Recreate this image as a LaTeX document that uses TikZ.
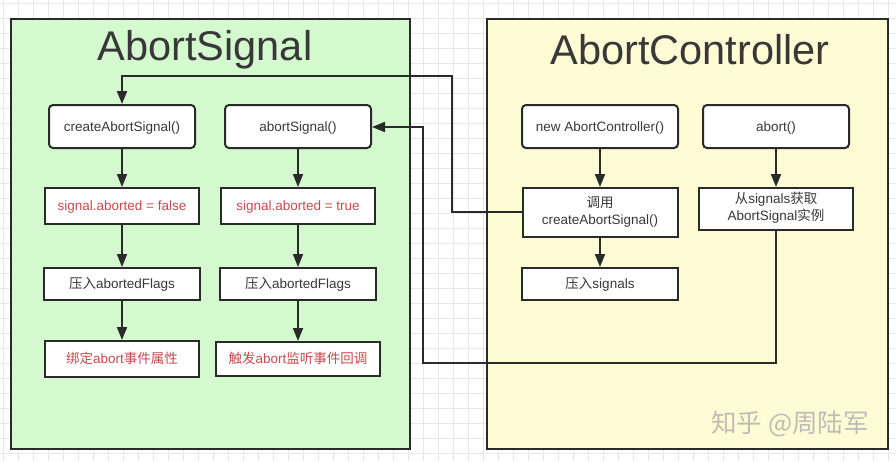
\documentclass[tikz,border=0pt]{standalone}
\usepackage{fontspec}
\setmainfont{Liberation Sans}
\newfontfamily\cjk{Noto Sans CJK SC}
\usetikzlibrary{arrows.meta}
\definecolor{gridc}{HTML}{E8E8E8}
\definecolor{greenbg}{HTML}{D5F9CF}
\definecolor{yellowbg}{HTML}{FEFCD5}
\definecolor{linec}{HTML}{2A2A2A}
\definecolor{txtc}{HTML}{383838}
\definecolor{redc}{HTML}{C84A4E}
\definecolor{wmc}{HTML}{BDBDB5}
\tikzset{
  gridline/.style={gridc, line width=0.8pt},
  container/.style={draw=linec, line width=2.6pt},
  box/.style={draw=linec, fill=white, line width=2pt, inner sep=0pt, align=center,
    font=\fontsize{13.5}{17}\selectfont, text=txtc},
  one/.style={text height=11pt, text depth=2pt},
  rbox/.style={box, rounded corners=4pt},
  redtext/.style={text=redc},
  conn/.style={draw=linec, line width=2pt, -{Triangle[length=13pt,width=10pt]}},
  title/.style={font=\fontsize{41.5}{48}\selectfont, text=txtc, inner sep=0pt},
}
\begin{document}
\begin{tikzpicture}[x=1pt,y=-1pt]
\useasboundingbox (0,0) rectangle (896,461);
\fill[white] (0,0) rectangle (896,461);
\foreach \i in {0,...,59} \draw[gridline] ({3+15*\i},0) -- ({3+15*\i},461);
\foreach \j in {0,...,30} \draw[gridline] (0,{3+15*\j}) -- (896,{3+15*\j});

% containers
\draw[container, fill=greenbg] (11,19) rectangle (410,449);
\draw[container, fill=yellowbg] (487,19) rectangle (888,449);

\node[title, anchor=base] (t1) at (205,60) {AbortSignal};
\node[title, anchor=base] (t2) at (690,64) {AbortController};

% left column nodes
\node[rbox, one, minimum width=146pt, minimum height=43pt] (cas) at (122,126.5) {createAbortSignal()};
\node[rbox, one, minimum width=146pt, minimum height=43pt] (as) at (298,126.5) {abortSignal()};
\node[box, one, redtext, minimum width=154pt, minimum height=36pt] (saf) at (122,206) {signal.aborted = false};
\node[box, one, redtext, minimum width=154pt, minimum height=36pt] (sat) at (298,206) {signal.aborted = true};
\node[box, one, minimum width=156pt, minimum height=32pt] (pf1) at (122,284) {{\cjk 压入}abortedFlags};
\node[box, one, minimum width=156pt, minimum height=32pt] (pf2) at (298,284) {{\cjk 压入}abortedFlags};
\node[box, one, redtext, minimum width=154pt, minimum height=36pt] (bind) at (122,359) {{\cjk 绑定}abort{\cjk 事件属性}};
\node[box, one, redtext, minimum width=164pt, minimum height=34pt] (trig) at (298,359) {{\cjk 触发}abort{\cjk 监听事件回调}};

% right column nodes
\node[rbox, one, minimum width=156pt, minimum height=43pt] (nac) at (600,126.5) {new AbortController()};
\node[rbox, one, minimum width=146pt, minimum height=43pt] (ab) at (776,126.5) {abort()};
\node[box, minimum width=155pt, minimum height=49pt] (call) at (600,212.5) {\strut{\cjk 调用}\\createAbortSignal()\strut};
\node[box, minimum width=154pt, minimum height=42pt] (get) at (776,209) {\strut{\cjk 从}signals{\cjk 获取}\\AbortSignal{\cjk 实例}\strut};
\node[box, one, minimum width=156pt, minimum height=32pt] (ps) at (600,284) {{\cjk 压入}signals};

% vertical arrows
\draw[conn] (cas) -- (saf);
\draw[conn] (saf) -- (pf1);
\draw[conn] (pf1) -- (bind);
\draw[conn] (as) -- (sat);
\draw[conn] (sat) -- (pf2);
\draw[conn] (pf2) -- (trig);
\draw[conn] (nac) -- (call);
\draw[conn] (call) -- (ps);
\draw[conn] (ab) -- (get);

% long connectors
\coordinate (c1a) at (452,212);
\coordinate (c1b) at (452,76);
\coordinate (c1c) at (122,76);
\draw[conn] (call.west |- c1a) -- (c1a) -- (c1b) -- (c1c) -- (cas.north);
\coordinate (c2a) at (776,363);
\coordinate (c2b) at (423,363);
\coordinate (c2c) at (423,127);
\draw[conn] (get.south) -- (c2a) -- (c2b) -- (c2c) -- (as.east |- c2c);

% watermark
\node[font=\cjk\fontsize{25.5}{28}\selectfont, text=wmc, inner sep=0pt] (wm) at (790,424) {知乎 @周陆军};
\end{tikzpicture}
\end{document}
